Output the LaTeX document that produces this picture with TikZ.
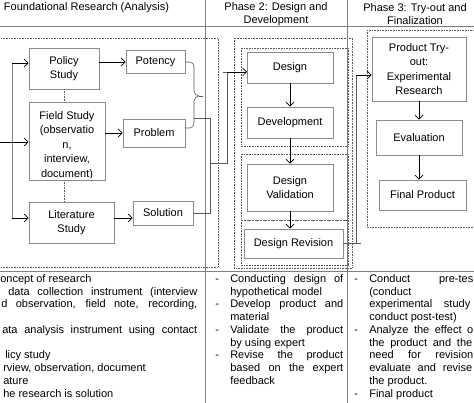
\documentclass[tikz,border=0pt]{standalone}
\usepackage{fontspec}
\setmainfont{Liberation Sans}
\usetikzlibrary{arrows.meta}

\definecolor{boxgray}{gray}{0.55}
\definecolor{rulegray}{gray}{0.5}
\definecolor{dotgray}{gray}{0.35}

\newcommand{\jline}[2]{\makebox[#1][s]{#2}}
\newcommand{\bitem}[2]{\makebox[15pt][l]{#1}#2}

\begin{document}
\begin{tikzpicture}[x=1pt, y=-1pt, line width=0.6pt,
  >={Straight Barb[length=4pt,width=8pt]}]
\tikzstyle{box}=[draw=boxgray, align=center, inner sep=0pt, font=\fontsize{11}{14.5}\selectfont]
\tikzstyle{head}=[align=center, inner sep=0pt, font=\fontsize{11}{12.5}\selectfont]
\tikzstyle{cell}=[align=left, inner sep=0pt, anchor=north west, font=\fontsize{11}{12.75}\selectfont]
\tikzstyle{frame}=[draw=dotgray, densely dotted]
\tikzstyle{rule}=[draw=rulegray]
\tikzstyle{conn}=[draw=black!65]
\tikzstyle{arrow}=[->, black, line width=0.7pt]

\useasboundingbox (0,0) rectangle (474,403);
\clip (0,0) rectangle (474,403);

% table rules
\draw[rule] (-40,26) -- (480,26);
\draw[rule] (-40,271) -- (480,271);
\draw[rule] (205,0) -- (205,403);
\draw[rule] (347.5,0) -- (347.5,403);

\node[head] (h1) at (86.5,8) {Foundational Research (Analysis)};
\node[head] (h2) at (276,14) {Phase 2: Design and\\Development};
\node[head] (h3) at (415,14) {Phase 3: Try-out and\\Finalization};

% dotted groups
\draw[frame] (-10,38) rectangle (218,267);
\draw[frame] (234,38) rectangle (352,268);
\draw[frame] (241,48) rectangle (348,146);
\draw[frame] (241,154) rectangle (348,220);
\draw[frame] (241,220) rectangle (348,265);
\draw[frame] (367,30) rectangle (480,227);

% analysis
\node[box, minimum width=70pt, minimum height=41pt] (policy) at (64,68.5) {Policy\\Study};
\node[box, minimum width=59pt, minimum height=23pt] (potency) at (155.5,62) {Potency};
\node[box, minimum width=76pt, minimum height=78pt] (field) at (67,141) {};
\begin{scope}
\clip (field.north west) rectangle ([yshift=3pt]field.south east);
\node[box, draw=none] (fieldtext) at (67,145.5) {Field Study\\(observatio\\n,\\interview,\\document)};
\end{scope}
\node[box, minimum width=62pt, minimum height=28pt] (problem) at (154,133) {Problem};
\node[box, minimum width=85pt, minimum height=41pt] (literature) at (71.5,222.5) {Literature\\Study};
\node[box, minimum width=60pt, minimum height=24pt] (solution) at (163,213) {Solution};

\coordinate (lt) at (12,63);
\coordinate (lb) at (12,218);
\coordinate (in) at (0,142);
\draw[rule] (lt) -- (lb);
\draw[arrow] (lt) -- (lt -| policy.west);
\draw[arrow] (lb) -- (lb -| literature.west);
\draw[arrow] (in) -- (in -| field.west);

\draw[arrow] (policy.east |- potency) -- (potency);
\draw[arrow] (field.east |- problem) -- (problem);
\draw[arrow] (literature.east |- lb) -- (solution.west |- lb);
\draw[frame] (policy.south) -- (policy.south |- field.north);
\draw[frame] (field.south -| policy.south) -- (policy.south |- literature.north);

% brace and joins
\draw[conn] (potency.east) -- (190,62) to[out=0,in=90] (194,67) -- (194,91)
  to[out=-90,in=180] (199,96) to[out=180,in=90] (194,101) -- (194,123)
  to[out=-90,in=0] (190,128) -- (problem.east |- 0,128);
\draw[conn] (199,96) -- (203,96);
\draw[conn] (194,118) -- (210,118) -- (210,213) -- (solution.east);
\coordinate (t2) at (227,72);
\draw[conn] (210,163) -- (227,163) -- (t2);
\draw[conn] (223,72) -- (t2);
\draw[arrow] (t2) -- (t2 -| 247,0);

% design and development
\node[box, minimum width=86pt, minimum height=31pt] (design) at (290,67.5) {Design};
\node[box, minimum width=86pt, minimum height=31pt] (development) at (290,122.5) {Development};
\node[box, minimum width=86pt, minimum height=47pt] (validation) at (290,187.5) {Design\\Validation};
\node[box, minimum width=99pt, minimum height=29pt] (revision) at (293.5,243.5) {Design Revision};

\draw[arrow] (design) -- (development);
\draw[arrow] (development) -- (validation);
\draw[arrow] (validation.south) -- (validation.south |- revision.north);

\coordinate (r1) at (356,243.5);
\coordinate (r2) at (356,75);
\draw[conn] (revision.east) -- (361,243.5);
\draw[conn] (r1) -- (r2);

% try-out and finalization
\node[box, minimum width=94pt, minimum height=64pt] (tryout) at (419,69) {Product Try-\\out:\\Experimental\\Research};
\node[box, minimum width=86pt, minimum height=35pt] (evaluation) at (419,137.5) {Evaluation};
\node[box, minimum width=87pt, minimum height=30pt] (final) at (422.5,195) {Final Product};

\draw[arrow] (r2) -- (r2 -| tryout.west);
\draw[arrow] (tryout) -- (evaluation);
\draw[arrow] (evaluation.south) -- (evaluation.south |- final.north);

% activities
\node[cell] (c1) at (0,274) {%
oncept of research\\
\hspace*{8pt}\jline{189pt}{data collection instrument (interview}\\
\hspace*{1pt}\jline{196pt}{d observation, field note, recording,}\\
\mbox{}\\
\hspace*{2pt}\jline{195pt}{ata analysis instrument using contact}\\
\mbox{}\\
\hspace*{5pt}licy study\\
\hspace*{3pt}rview, observation, document\\
\hspace*{3pt}ature\\
\hspace*{3pt}he research is solution};

\node[cell] (c2) at (215,274) {%
\bitem{-}{\jline{113pt}{Conducting design of}}\\
\bitem{}{hypothetical model}\\
\bitem{-}{\jline{113pt}{Develop product and}}\\
\bitem{}{material}\\
\bitem{-}{\jline{113pt}{Validate the product}}\\
\bitem{}{by using expert}\\
\bitem{-}{\jline{113pt}{Revise the product}}\\
\bitem{}{\jline{113pt}{based on the expert}}\\
\bitem{}{feedback}};

\node[cell] (c3) at (354,274) {%
\bitem{-}{\jline{104pt}{Conduct pre-tes}}\\
\bitem{}{(conduct}\\
\bitem{}{\jline{101pt}{experimental study}}\\
\bitem{}{conduct post-test)}\\
\bitem{-}{\jline{104pt}{Analyze the effect o}}\\
\bitem{}{\jline{103pt}{the product and the}}\\
\bitem{}{\jline{104pt}{need for revision}}\\
\bitem{}{\jline{103pt}{evaluate and revise}}\\
\bitem{}{the product.}\\
\bitem{-}{Final product}};

\end{tikzpicture}
\end{document}
